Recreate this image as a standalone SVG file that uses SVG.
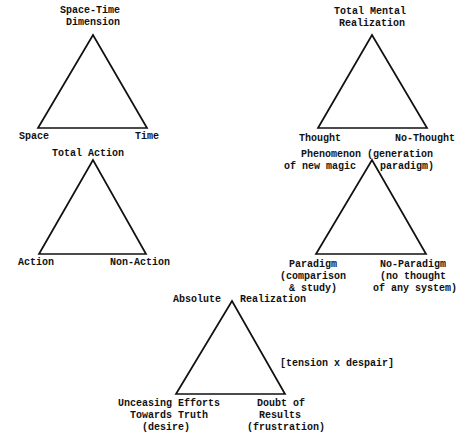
<svg xmlns="http://www.w3.org/2000/svg" width="474" height="436" viewBox="0 0 474 436">
<style>
text{font-family:"Liberation Mono","DejaVu Sans Mono",monospace;font-size:10px;font-weight:bold;fill:#111}
.tri{fill:none;stroke:#111;stroke-width:1.7;stroke-linejoin:miter}
</style>
<rect width="474" height="436" fill="#fff"/>
<g id="connectors">
<polygon class="tri" points="93,35 38,128 147,128"/>
<polygon class="tri" points="372,35 318,128 427,128"/>
<polygon class="tri" points="93,160 39,254 146,254"/>
<polygon class="tri" points="372,160 316,254 426,254"/>
<polygon class="tri" points="232,301 176,394 285,394"/>
</g>
<g id="spacetime">
<text x="60" y="13">Space-Time</text>
<text x="66" y="25">Dimension</text>
<text x="19" y="139">Space</text>
<text x="135" y="139">Time</text>
</g>
<g id="mental">
<text x="334" y="14">Total Mental</text>
<text x="339" y="26">Realization</text>
<text x="299" y="141">Thought</text>
<text x="395" y="141">No-Thought</text>
</g>
<g id="action">
<text x="52" y="156">Total Action</text>
<text x="18" y="265">Action</text>
<text x="110" y="265">Non-Action</text>
</g>
<g id="paradigm">
<text x="301" y="157">Phenomenon (generation</text>
<text x="284" y="169">of new magic</text>
<text x="380" y="169">paradigm)</text>
<text x="289" y="267">Paradigm</text>
<text x="280" y="279">(comparison</text>
<text x="289" y="291">&amp; study)</text>
<text x="380" y="267">No-Paradigm</text>
<text x="380" y="279">(no thought</text>
<text x="373" y="291">of any system)</text>
</g>
<g id="absolute">
<text x="173" y="302">Absolute</text>
<text x="240" y="302">Realization</text>
<text x="280" y="366">[tension x despair]</text>
<text x="118" y="406">Unceasing Efforts</text>
<text x="130" y="418">Towards Truth</text>
<text x="142" y="430">(desire)</text>
<text x="257" y="406">Doubt of</text>
<text x="259" y="418">Results</text>
<text x="247" y="430">(frustration)</text>
</g>
</svg>
